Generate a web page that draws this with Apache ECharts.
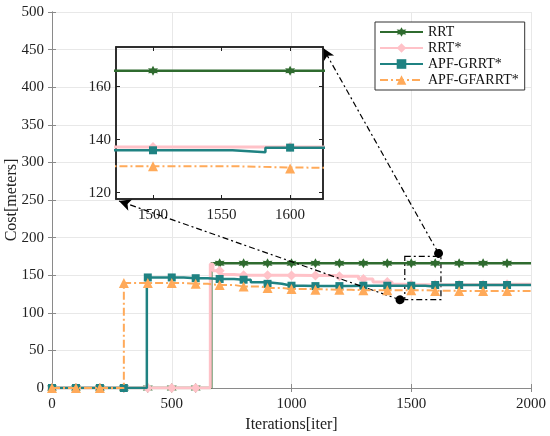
<!DOCTYPE html>
<html>
<head>
<meta charset="utf-8">
<script src="https://cdn.jsdelivr.net/npm/echarts@6/dist/echarts.min.js"></script>
<style>html,body{margin:0;padding:0;background:#fff;}#c{width:550px;height:436px;}</style>
</head>
<body>
<div id="c"></div>
<script>
// ---- data ----
const seriesNames = ['RRT', 'RRT*', 'APF-GRRT*', 'APF-GFARRT*'];
// step change points [iteration, cost] (value holds until next change)
const rrtSteps = [[0, 0], [665, 166]];
const rrtStarSteps = [[0, 0], [661, 165], [672, 156], [705, 151], [760, 150], [1000, 149.5], [1180, 148.5], [1280, 145], [1340, 141], [1420, 138], [1470, 137.2], [1880, 138]];
const apfGrrtSteps = [[0, 0], [396, 147], [550, 146], [650, 145], [760, 144], [830, 140.5], [900, 138.5], [960, 136], [1050, 135.5], [1250, 136], [1558, 135.3], [1582, 137]];
const apfGfarrtSteps = [[0, 0], [300, 139.5], [560, 138.5], [650, 137], [760, 135], [870, 133], [960, 131.5], [1100, 130.5], [1250, 130], [1558, 129.5], [1600, 129.1]];
const markerIters = [0, 100, 200, 300, 400, 500, 600, 700, 800, 900, 1000, 1100, 1200, 1300, 1400, 1500, 1600, 1700, 1800, 1900];
const xEnd = 2000;
const insetXTicks = [1500, 1550, 1600];
const insetYTicks = [120, 140, 160];
const zoomBox = {x0: 1473, x1: 1624, y0: 117.6, y1: 175};
const circleA = [1614, 179];
const circleB = [1453, 117.3];

// ---- layout ----
const W = 550, H = 436;
const main = {left: 52, top: 12, right: 19, bottom: 48};
const inset = {left: 116, top: 47, width: 207, height: 152};
const colors = ['#2f6b2f', '#ffc2c8', '#1f8282', '#ffaa5a'];
const starPath = 'path://M0,-10 L2.6,-4.5 L8.7,-5 L5.2,0 L8.7,5 L2.6,4.5 L0,10 L-2.6,4.5 L-8.7,5 L-5.2,0 L-8.7,-5 L-2.6,-4.5 Z';
const symbols = [starPath, 'diamond', 'rect', 'triangle'];
const symSizes = [10, 10, 8, 10];
const FONT = '"Liberation Serif", "Times New Roman", serif';

function valueAt(steps, x) {
  let v = steps[0][1];
  for (const s of steps) if (s[0] <= x) v = s[1];
  return v;
}
function buildData(steps) {
  const pts = new Map();
  for (const s of steps) pts.set(s[0], {value: [s[0], s[1]], symbol: 'none'});
  for (const m of markerIters) pts.set(m, {value: [m, valueAt(steps, m)]});
  const last = steps[steps.length - 1][1];
  if (!pts.has(xEnd)) pts.set(xEnd, {value: [xEnd, last], symbol: 'none'});
  return Array.from(pts.keys()).sort((a, b) => a - b).map(k => pts.get(k));
}
const allSteps = [rrtSteps, rrtStarSteps, apfGrrtSteps, apfGfarrtSteps];

// inset corners expressed in main data coordinates
const mainW = W - main.left - main.right, mainH = H - main.top - main.bottom;
function pxToMain(px, py) {
  return [(px - main.left) / mainW * 2000, (main.top + mainH - py) / mainH * 500];
}
const insetTR = pxToMain(inset.left + inset.width, inset.top + 1);
const insetBL = pxToMain(inset.left + 3, inset.top + inset.height + 2);

const annotLine = {color: '#000', width: 1.2, type: [6, 3, 2, 3]};

const series = [];
allSteps.forEach((steps, i) => {
  const base = {
    name: seriesNames[i], type: 'line', step: 'end',
    data: buildData(steps),
    symbol: symbols[i], symbolSize: symSizes[i], showSymbol: true,
    itemStyle: {color: colors[i]},
    lineStyle: {color: colors[i], width: i === 1 ? 3 : (i === 3 ? 2 : 2.5), type: i === 3 ? [8, 3, 2, 3] : 'solid'},
    animation: false, silent: true, z: 2 + i
  };
  series.push(Object.assign({}, base, {xAxisIndex: 0, yAxisIndex: 0}));
  series.push(Object.assign({}, base, {xAxisIndex: 2, yAxisIndex: 2, clip: true, z: 20 + i}));
});
// annotations on main grid
series.push({
  name: 'annot', type: 'line', xAxisIndex: 0, yAxisIndex: 0, data: [], silent: true, z: 30,
  markArea: {silent: true, itemStyle: {color: 'rgba(0,0,0,0)', borderColor: '#000', borderWidth: 1.2, borderType: [6, 3, 2, 3]},
    data: [[{coord: [zoomBox.x0, zoomBox.y1]}, {coord: [zoomBox.x1, zoomBox.y0]}]]},
  markLine: {silent: true, animation: false, label: {show: false}, lineStyle: annotLine,
    data: [
      [{coord: circleA, symbol: 'circle', symbolSize: 9}, {coord: insetTR, symbol: 'arrow', symbolSize: [9, 12]}],
      [{coord: circleB, symbol: 'circle', symbolSize: 9}, {coord: insetBL, symbol: 'arrow', symbolSize: [9, 12]}]
    ]}
});

const plain = v => String(v);
const labelStyle = {fontFamily: FONT, fontSize: 15, color: '#222', formatter: plain};
const mainAxisLine = {show: true, lineStyle: {color: '#8a8a8a', width: 1}};
const option = {
  backgroundColor: '#fff',
  animation: false,
  grid: [
    Object.assign({show: false, containLabel: false, outerBoundsMode: 'none'}, main),
    Object.assign({show: true, containLabel: false, outerBoundsMode: 'none', borderColor: '#222', borderWidth: 1.5, backgroundColor: 'rgba(0,0,0,0)', z: 15}, inset)
  ],
  legend: {
    data: seriesNames, orient: 'vertical', left: 375, top: 22,
    backgroundColor: '#fff', borderColor: '#333', borderWidth: 1,
    padding: [3, 6, 3, 4], itemGap: 2, itemWidth: 43, itemHeight: 12,
    textStyle: {fontFamily: FONT, fontSize: 14, color: '#111'}, z: 40
  },
  xAxis: [
    {type: 'value', gridIndex: 0, min: 0, max: 2000, interval: 500, name: 'Iterations[iter]', nameLocation: 'middle', nameGap: 27,
      nameTextStyle: {fontFamily: FONT, fontSize: 16, color: '#222'},
      axisLine: mainAxisLine, axisTick: {inside: true, length: 4, lineStyle: {color: '#8a8a8a'}},
      axisLabel: Object.assign({margin: 9}, labelStyle), splitLine: {show: true, lineStyle: {color: '#e8e8e8'}}},
    {type: 'value', gridIndex: 0, position: 'top', min: 0, max: 2000, interval: 500,
      axisLine: mainAxisLine, axisTick: {inside: true, length: 4, lineStyle: {color: '#8a8a8a'}}, axisLabel: {show: false}, splitLine: {show: false}},
    {type: 'value', gridIndex: 1, min: zoomBox.x0, max: zoomBox.x1,
      axisLine: {show: true, lineStyle: {color: '#222', width: 1.5}}, axisTick: {inside: true, length: 4, customValues: insetXTicks, lineStyle: {color: '#222'}},
      axisLabel: Object.assign({}, labelStyle, {customValues: insetXTicks, margin: 9}), splitLine: {show: false}},
    {type: 'value', gridIndex: 1, position: 'top', min: zoomBox.x0, max: zoomBox.x1,
      axisLine: {show: true, lineStyle: {color: '#222', width: 1.5}}, axisTick: {inside: true, length: 4, customValues: insetXTicks, lineStyle: {color: '#222'}},
      axisLabel: {show: false}, splitLine: {show: false}}
  ],
  yAxis: [
    {type: 'value', gridIndex: 0, min: 0, max: 500, interval: 50, name: 'Cost[meters]', nameLocation: 'middle', nameGap: 32, nameMoveOverlap: false,
      nameTextStyle: {fontFamily: FONT, fontSize: 16, color: '#222'},
      axisLine: mainAxisLine, axisTick: {inside: true, length: 4, lineStyle: {color: '#8a8a8a'}},
      axisLabel: Object.assign({margin: 8}, labelStyle), splitLine: {show: true, lineStyle: {color: '#e8e8e8'}}},
    {type: 'value', gridIndex: 0, position: 'right', min: 0, max: 500, interval: 50,
      axisLine: mainAxisLine, axisTick: {inside: true, length: 4, lineStyle: {color: '#8a8a8a'}}, axisLabel: {show: false}, splitLine: {show: false}},
    {type: 'value', gridIndex: 1, min: zoomBox.y0, max: zoomBox.y1,
      axisLine: {show: true, lineStyle: {color: '#222', width: 1.5}}, axisTick: {inside: true, length: 4, customValues: insetYTicks, lineStyle: {color: '#222'}},
      axisLabel: Object.assign({}, labelStyle, {customValues: insetYTicks, margin: 5}), splitLine: {show: false}},
    {type: 'value', gridIndex: 1, position: 'right', min: zoomBox.y0, max: zoomBox.y1,
      axisLine: {show: true, lineStyle: {color: '#222', width: 1.5}}, axisTick: {inside: true, length: 4, customValues: insetYTicks, lineStyle: {color: '#222'}},
      axisLabel: {show: false}, splitLine: {show: false}}
  ],
  series: series
};
const chart = echarts.init(document.getElementById('c'), null, {renderer: 'canvas'});
chart.setOption(option);
</script>
</body>
</html>
